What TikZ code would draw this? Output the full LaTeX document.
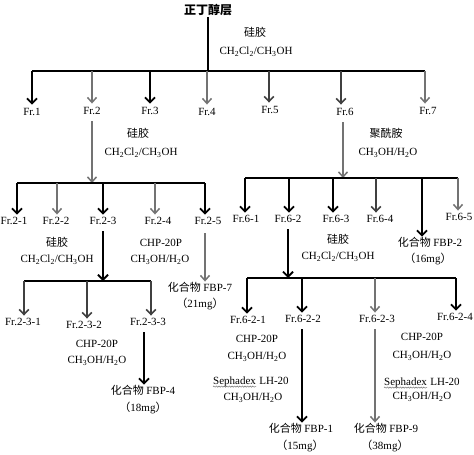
\documentclass[tikz,border=0pt]{standalone}
\usepackage{fontspec}
\setmainfont{Liberation Serif}
\newfontfamily\cjk{Noto Sans CJK SC}
\usetikzlibrary{arrows.meta,decorations.pathmorphing}
\newcommand\sbs[1]{\textsubscript{#1}}
\begin{document}
\begin{tikzpicture}[x=1pt,y=-1pt,
 lbl/.style={inner sep=1pt, font=\fontsize{11}{13}\selectfont, text height=8pt, text depth=2.5pt},
 zh/.style={lbl, font=\fontsize{11}{13}\selectfont\cjk},
 ttl/.style={inner sep=1pt, font=\fontsize{12}{14}\selectfont\cjk\bfseries},
 ln/.style={line width=1.8pt, black},
 lng/.style={line width=1.4pt, black!55},
 lnd/.style={line width=1.6pt, black!75},
 arr/.style={ln, -{Straight Barb[length=5pt,width=10pt,line width=1.8pt]}},
 arrg/.style={lng, -{Straight Barb[length=5pt,width=9pt,line width=1.5pt]}},
 arrd/.style={lnd, -{Straight Barb[length=5pt,width=9.5pt,line width=1.6pt]}},
 wav/.style={decorate, decoration={snake, amplitude=0.6pt, segment length=2.6pt}, black!55, line width=0.5pt}
]
\useasboundingbox (0,0) rectangle (474,455);

% ---------- top level ----------
\node[ttl] (top) at (208,10) {正丁醇层};
\coordinate (j0) at (208,71);
\draw[ln] (top) -- (j0);
\node[zh] (s1) at (255,34) {硅胶};
\node[lbl] (s1b) at (256,52) {CH\sbs{2}Cl\sbs{2}/CH\sbs{3}OH};
\coordinate (b1) at (32,71);
\coordinate (b2) at (92,71);
\coordinate (b3) at (150,71);
\coordinate (b4) at (207,71);
\coordinate (b5) at (269,71);
\coordinate (b6) at (341,71);
\coordinate (b7) at (425,71);
\draw[ln] (b1) -- (b7);
\node[lbl] (fr1) at (32,113) {Fr.1};
\node[lbl] (fr2) at (92,112) {Fr.2};
\node[lbl] (fr3) at (150,112) {Fr.3};
\node[lbl] (fr4) at (207,113) {Fr.4};
\node[lbl] (fr5) at (270,111) {Fr.5};
\node[lbl] (fr6) at (345,113) {Fr.6};
\node[lbl] (fr7) at (428,112) {Fr.7};
\draw[arr]  (b1) -- ([yshift=2pt]b1 |- fr1.north);
\draw[arrg] (b2) -- ([yshift=2pt]b2 |- fr2.north);
\draw[arr]  (b3) -- ([yshift=2pt]b3 |- fr3.north);
\draw[arrg] (b4) -- ([yshift=2pt]b4 |- fr4.north);
\draw[arrd] (b5) -- ([yshift=2pt]b5 |- fr5.north);
\draw[arrd] (b6) -- ([yshift=2pt]b6 |- fr6.north);
\draw[arrg] (b7) -- ([yshift=2pt]b7 |- fr7.north);

% ---------- Fr.2 branch ----------
\coordinate (j2) at (92,183);
\draw[arrg] ([yshift=-3pt]fr2.south) -- (j2);
\node[zh] (s2) at (138,135) {硅胶};
\node[lbl] (s2b) at (141,153) {CH\sbs{2}Cl\sbs{2}/CH\sbs{3}OH};
\coordinate (c21) at (17,183);
\coordinate (c22) at (57,183);
\coordinate (c23) at (103,183);
\coordinate (c24) at (155,183);
\coordinate (c25) at (205,183);
\draw[ln] (c21) -- (c25);
\node[lbl] (f21) at (14,222) {Fr.2-1};
\node[lbl] (f22) at (56,222) {Fr.2-2};
\node[lbl] (f23) at (103,222) {Fr.2-3};
\node[lbl] (f24) at (158,222) {Fr.2-4};
\node[lbl] (f25) at (208,222) {Fr.2-5};
\draw[arr]  (c21) -- ([yshift=1pt]c21 |- f21.north);
\draw[arrg] (c22) -- ([yshift=1pt]c22 |- f22.north);
\draw[arr]  (c23) -- ([yshift=1pt]c23 |- f23.north);
\draw[arrg] (c24) -- ([yshift=1pt]c24 |- f24.north);
\draw[arr]  (c25) -- ([yshift=1pt]c25 |- f25.north);

% ---------- Fr.6 branch ----------
\coordinate (j6) at (343,178);
\draw[arrg] ([yshift=-3pt]j6 |- fr6.south) -- (j6);
\node[zh] (s6) at (386,135) {聚酰胺};
\node[lbl] (s6b) at (388,153) {CH\sbs{3}OH/H\sbs{2}O};
\coordinate (c61) at (245,178);
\coordinate (c62) at (289,178);
\coordinate (c63) at (333,178);
\coordinate (c64) at (376,178);
\coordinate (c6x) at (422,178);
\coordinate (c65) at (458,178);
\draw[ln] (c61) -- (c65);
\node[lbl] (f61) at (246,220) {Fr.6-1};
\node[lbl] (f62) at (288,220) {Fr.6-2};
\node[lbl] (f63) at (336,220) {Fr.6-3};
\node[lbl] (f64) at (380,220) {Fr.6-4};
\node[lbl] (f65) at (459,218) {Fr.6-5};
\node[zh] (fbp2) at (430,244) {化合物 {\rmfamily FBP-2}};
\node[zh] (m2) at (428,260) {（{\rmfamily 16mg}）};
\draw[arr]  (c61) -- ([yshift=1pt]c61 |- f61.north);
\draw[arr]  (c62) -- ([yshift=1pt]c62 |- f62.north);
\draw[arr]  (c63) -- ([yshift=1pt]c63 |- f63.north);
\draw[arrd] (c64) -- ([yshift=1pt]c64 |- f64.north);
\draw[arr]  (c6x) -- ([yshift=1pt]c6x |- fbp2.north);
\draw[arrg] (c65) -- ([yshift=1pt]c65 |- f65.north);

% ---------- Fr.2-3 branch ----------
\coordinate (j23) at (103,281);
\draw[arr] ([yshift=-3pt]f23.south) -- (j23);
\node[zh] (s23) at (57,244) {硅胶};
\node[lbl] (s23b) at (57,260) {CH\sbs{2}Cl\sbs{2}/CH\sbs{3}OH};
\coordinate (c231) at (24,281);
\coordinate (c232) at (87,281);
\coordinate (c233) at (151,281);
\draw[ln] (c231) -- (c233);
\node[lbl] (f231) at (23,323) {Fr.2-3-1};
\node[lbl] (f232) at (84,326) {Fr.2-3-2};
\node[lbl] (f233) at (148,323) {Fr.2-3-3};
\draw[arrd] (c231) -- ([yshift=1pt]c231 |- f231.north);
\draw[arrd] (c232) -- ([yshift=1pt]c232 |- f232.north);
\draw[arrd] (c233) -- ([yshift=1pt]c233 |- f233.north);
\node[lbl] (p232) at (97,345) {CHP-20P};
\node[lbl] (p232b) at (97,361) {CH\sbs{3}OH/H\sbs{2}O};
\node[zh] (fbp4) at (143,392) {化合物 {\rmfamily FBP-4}};
\node[zh] (m4) at (143,409) {（{\rmfamily 18mg}）};
\coordinate (a233) at (144,332);
\draw[arr] (a233) -- ([yshift=1pt]a233 |- fbp4.north);

% ---------- Fr.2-5 ----------
\node[lbl] (p25) at (161,244) {CHP-20P};
\node[lbl] (p25b) at (160,260) {CH\sbs{3}OH/H\sbs{2}O};
\node[zh] (fbp7) at (200,289) {化合物 {\rmfamily FBP-7}};
\node[zh] (m7) at (200,305) {（{\rmfamily 21mg}）};
\coordinate (a25) at (205,233);
\draw[arrg] (a25) -- ([yshift=1pt]a25 |- fbp7.north);

% ---------- Fr.6-2 branch ----------
\coordinate (j62) at (288,278);
\draw[arr] ([yshift=-3pt]j62 |- f62.south) -- (j62);
\node[zh] (s62) at (338,241) {硅胶};
\node[lbl] (s62b) at (338,257) {CH\sbs{2}Cl\sbs{2}/CH\sbs{3}OH};
\coordinate (c621) at (247,278);
\coordinate (c622) at (302,278);
\coordinate (c623) at (375,278);
\coordinate (c624) at (456,278);
\draw[ln] (c621) -- (c624);
\node[lbl] (f621) at (248,321) {Fr.6-2-1};
\node[lbl] (f622) at (303,320) {Fr.6-2-2};
\node[lbl] (f623) at (377,320) {Fr.6-2-3};
\node[lbl] (f624) at (455,318) {Fr.6-2-4};
\draw[arr]  (c621) -- ([yshift=1pt]c621 |- f621.north);
\draw[arr]  (c622) -- ([yshift=1pt]c622 |- f622.north);
\draw[arrg] (c623) -- ([yshift=1pt]c623 |- f623.north);
\draw[arr]  (c624) -- ([yshift=1pt]c624 |- f624.north);

% left column under Fr.6-2-1
\node[lbl] (p621) at (257,340) {CHP-20P};
\node[lbl] (p621b) at (257,357) {CH\sbs{3}OH/H\sbs{2}O};
\node[lbl, inner sep=0pt, anchor=base west] (sx1) at (213,384) {Sephadex};
\node[lbl, inner sep=0pt, anchor=base west] (lh1) at ([xshift=3pt]sx1.base east) {LH-20};
\draw[wav] ([yshift=-2.6pt]sx1.base west) -- ([yshift=-2.6pt]sx1.base east);
\node[lbl] (p621d) at (253,398) {CH\sbs{3}OH/H\sbs{2}O};

% right column under Fr.6-2-3
\node[lbl] (p623) at (422,338) {CHP-20P};
\node[lbl] (p623b) at (422,356) {CH\sbs{3}OH/H\sbs{2}O};
\node[lbl, inner sep=0pt, anchor=base west] (sx2) at (384,385) {Sephadex};
\node[lbl, inner sep=0pt, anchor=base west] (lh2) at ([xshift=3pt]sx2.base east) {LH-20};
\draw[wav] ([yshift=-2.6pt]sx2.base west) -- ([yshift=-2.6pt]sx2.base east);
\node[lbl] (p623d) at (422,397) {CH\sbs{3}OH/H\sbs{2}O};

% compounds FBP-1 and FBP-9
\node[zh] (fbp1) at (301,430) {化合物 {\rmfamily FBP-1}};
\node[zh] (m1) at (300,447) {（{\rmfamily 15mg}）};
\node[zh] (fbp9) at (386,430) {化合物 {\rmfamily FBP-9}};
\node[zh] (m9) at (385,447) {（{\rmfamily 38mg}）};
\draw[arr]  ([yshift=-3pt]c622 |- f622.south) -- ([yshift=1pt]c622 |- fbp1.north);
\draw[arrg] ([yshift=-3pt]c623 |- f623.south) -- ([yshift=1pt]c623 |- fbp9.north);
\end{tikzpicture}
\end{document}
